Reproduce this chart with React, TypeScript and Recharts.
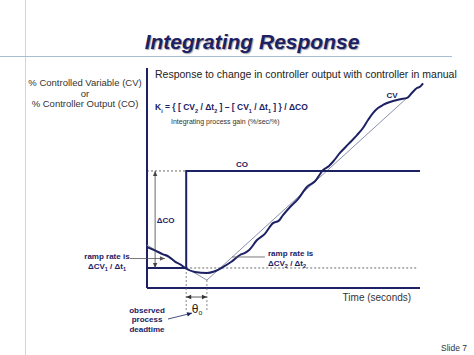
import React from 'react';
import { ComposedChart, Line, XAxis, YAxis, ReferenceLine, ReferenceDot } from 'recharts';

const NAVY = '#1c2163';
const GREY = '#8a90aa';
const FONT = '"Liberation Sans", Arial, sans-serif';

// CV response (time %, value %)
const CV_T = [0, 3, 5.7, 7.5, 10, 12, 13.6, 17.1, 21.4, 24, 27.1, 30, 33.2, 35, 36.5, 39.3, 42, 45, 47, 48.5,
  51.1, 54, 57.1, 60, 62.9, 65, 66.5, 68.9, 72, 75, 77, 79, 80.7, 82.5, 84.3, 86, 87.9, 90.5, 92.9, 94.5, 96.4, 97.5, 98.6];
const CV_V = [18.6, 17.0, 15.3, 14.5, 12.0, 10.6, 9.1, 7.3, 6.8, 7.5, 9.5, 11.8, 15.0, 16.0, 17.3, 21.8, 24.5, 29.5, 30.5, 33.0,
  36.8, 40.5, 45.9, 48.5, 53.6, 55.5, 57.5, 61.4, 65.5, 69.5, 72.5, 76.5, 79.5, 81.8, 83.2, 84.2, 85.0, 85.8, 86.4, 88.5, 90.9, 91.5, 93.0];

// controller output step
const CO_T = [0, 14, 14, 97.5];
const CO_V = [9.1, 9.1, 53.2, 53.2];

// fitted ramp lines
const RAMP1_T = [0, 21.4];
const RAMP1_V = [19.5, 3.6];
const RAMP2_T = [21.4, 93.2];
const RAMP2_V = [3.6, 86.8];

const rows = (t: number[], v: number[]) => t.map((x, i) => ({ t: x, v: v[i] }));
const cvData = rows(CV_T, CV_V);
const coData = rows(CO_T, CO_V);
const ramp1 = rows(RAMP1_T, RAMP1_V);
const ramp2 = rows(RAMP2_T, RAMP2_V);

const CO_LOW = CO_V[0];
const CO_HIGH = CO_V[2];
const STEP_T = CO_T[1];
const DEAD_T = RAMP2_T[0];

function arrow(o: { start?: boolean; end?: boolean; color?: string; width?: number; dash?: string }) {
  const color = o.color ?? NAVY;
  return (p: any) => {
    const { x1, y1, x2, y2 } = p;
    const a = Math.atan2(y2 - y1, x2 - x1);
    const head = (x: number, y: number, ang: number) => {
      const L = 5, W = 2.2;
      const bx = x - L * Math.cos(ang), by = y - L * Math.sin(ang);
      return `${x},${y} ${bx - W * Math.sin(ang)},${by + W * Math.cos(ang)} ${bx + W * Math.sin(ang)},${by - W * Math.cos(ang)}`;
    };
    return (
      <g>
        <line x1={x1} y1={y1} x2={x2} y2={y2} stroke={color} strokeWidth={o.width ?? 1} strokeDasharray={o.dash} />
        {o.end && <polygon points={head(x2, y2, a)} fill={color} />}
        {o.start && <polygon points={head(x1, y1, a + Math.PI)} fill={color} />}
      </g>
    );
  };
}

function note(content: React.ReactNode, o: { size: number; bold?: boolean; anchor?: 'start' | 'middle' | 'end'; color?: string }) {
  return (p: any) => (
    <text x={p.cx} y={p.cy} dy="0.35em" textAnchor={o.anchor ?? 'middle'} fontSize={o.size}
      fontWeight={o.bold ? 700 : 400} fill={o.color ?? NAVY} fontFamily={FONT}>
      {content}
    </text>
  );
}

const sub = (s: string) => (
  <>
    <tspan dy={2} fontSize={5.5}>{s}</tspan>
    <tspan dy={-2}> </tspan>
  </>
);

export default function App() {
  return (
    <div style={{ position: 'absolute', left: 0, top: 0, width: 474, height: 355, background: '#fff', fontFamily: FONT }}>
      <div style={{ position: 'absolute', left: 25, top: 0, width: 1, height: 355, background: '#cad6e4' }} />
      <div style={{ position: 'absolute', left: 0, top: 56, width: 452, height: 1, background: '#a9bdd3' }} />
      <div style={{
        position: 'absolute', left: 0, width: 504, top: 29, textAlign: 'center', fontSize: 21, fontWeight: 700,
        fontStyle: 'italic', color: NAVY, textShadow: '1px 1px 1px #a0a0a8', lineHeight: '26px',
      }}>Integrating Response</div>
      <div style={{
        position: 'absolute', left: 20, width: 130, top: 78, textAlign: 'center', fontSize: 9.5, color: '#333',
        lineHeight: '10.5px',
      }}>
        % Controlled Variable (CV)<br />or<br />% Controller Output (CO)
      </div>
      <div style={{ position: 'absolute', left: 155, top: 68, fontSize: 10.5, color: '#222', whiteSpace: 'nowrap', lineHeight: '12px' }}>
        Response to change in controller output with controller in manual
      </div>
      <div style={{ position: 'absolute', left: 155, top: 102, fontSize: 8.5, fontWeight: 700, color: NAVY, whiteSpace: 'nowrap', lineHeight: '10px' }}>
        K<sub style={{ fontSize: 5.5 }}>i</sub> = &#123; [ CV<sub style={{ fontSize: 5.5 }}>2</sub> / &#916;t<sub style={{ fontSize: 5.5 }}>2</sub> ] &ndash; [ CV<sub style={{ fontSize: 5.5 }}>1</sub> / &#916;t<sub style={{ fontSize: 5.5 }}>1</sub> ] &#125; / &#916;CO
      </div>
      <div style={{ position: 'absolute', left: 171, top: 117, fontSize: 7, color: '#333', whiteSpace: 'nowrap', lineHeight: '9px' }}>
        Integrating process gain (%/sec/%)
      </div>
      <div style={{ position: 'absolute', right: 7, top: 343, fontSize: 8.5, color: '#333', lineHeight: '10px' }}>Slide 7</div>

      <div style={{ position: 'absolute', left: 0, top: 0 }}>
        <ComposedChart width={474} height={355} margin={{ top: 68, right: 47, bottom: 1, left: 35 }}>
          <XAxis dataKey="t" type="number" domain={[-40, 100]} hide allowDataOverflow />
          <YAxis dataKey="v" type="number" domain={[-30, 100]} hide allowDataOverflow />

          {/* axes */}
          <ReferenceLine segment={[{ x: 0, y: 0 }, { x: 0, y: 100 }]} stroke={NAVY} strokeWidth={2} />
          <ReferenceLine segment={[{ x: 0, y: 0 }, { x: 97.5, y: 0 }]} stroke={NAVY} strokeWidth={2} />

          {/* guide lines */}
          <ReferenceLine segment={[{ x: 0, y: CO_HIGH }, { x: STEP_T, y: CO_HIGH }]} stroke="#444" strokeWidth={0.8} strokeDasharray="2 2" />
          <ReferenceLine segment={[{ x: STEP_T, y: CO_LOW }, { x: 96.8, y: CO_LOW }]} stroke="#444" strokeWidth={0.8} strokeDasharray="2 2" />
          <ReferenceLine segment={[{ x: STEP_T, y: CO_LOW }, { x: STEP_T, y: -11 }]} stroke="#666" strokeWidth={0.8} strokeDasharray="2 2" />
          <ReferenceLine segment={[{ x: DEAD_T, y: 3.6 }, { x: DEAD_T, y: -11 }]} stroke="#666" strokeWidth={0.8} strokeDasharray="2 2" />

          <Line data={ramp1} dataKey="v" stroke={GREY} strokeWidth={1} dot={false} isAnimationActive={false} />
          <Line data={ramp2} dataKey="v" stroke={GREY} strokeWidth={1} dot={false} isAnimationActive={false} />
          <Line data={coData} dataKey="v" type="linear" stroke={NAVY} strokeWidth={2} dot={false} isAnimationActive={false} />
          <Line data={cvData} dataKey="v" type="monotoneX" stroke={NAVY} strokeWidth={2} dot={false} isAnimationActive={false} />

          {/* arrows */}
          <ReferenceLine segment={[{ x: 2.9, y: CO_HIGH }, { x: 2.9, y: CO_LOW }]} shape={arrow({ start: true, end: true, color: '#444', width: 0.8 })} />
          <ReferenceLine segment={[{ x: STEP_T, y: -4.1 }, { x: DEAD_T, y: -4.1 }]} shape={arrow({ start: true, end: true, color: '#333', width: 0.8 })} />
          <ReferenceLine segment={[{ x: -6.1, y: 13.4 }, { x: 6.4, y: 13.4 }]} shape={arrow({ end: true, color: '#555', width: 0.8 })} />
          <ReferenceLine segment={[{ x: 30.4, y: 14.1 }, { x: 42.1, y: 14.1 }]} shape={arrow({ color: '#555', width: 0.8 })} />
          <ReferenceLine segment={[{ x: 7.5, y: -14.1 }, { x: 16.1, y: -11.4 }]} shape={arrow({ end: true, color: NAVY, width: 0.8 })} />

          {/* labels */}
          <ReferenceDot x={33.9} y={56.4} shape={note('CO', { size: 8, bold: true })} />
          <ReferenceDot x={87.5} y={87.7} shape={note('CV', { size: 8, bold: true })} />
          <ReferenceDot x={3.5} y={30.9} shape={note('\u0394CO', { size: 8, bold: true, anchor: 'start' })} />
          <ReferenceDot x={-14.3} y={14.5} shape={note('ramp rate is', { size: 8, bold: true })} />
          <ReferenceDot x={-14.3} y={10.0} shape={note(<>{'\u0394CV'}{sub('1')}{'/ \u0394t'}{sub('1')}</>, { size: 8, bold: true })} />
          <ReferenceDot x={43.2} y={15.9} shape={note('ramp rate is', { size: 8, bold: true, anchor: 'start' })} />
          <ReferenceDot x={43.2} y={11.4} shape={note(<>{'\u0394CV'}{sub('2')}{'/ \u0394t'}{sub('2')}</>, { size: 8, bold: true, anchor: 'start' })} />
          <ReferenceDot x={17.9} y={-9.5} shape={note(<>{'\u03B8'}<tspan fontSize={7} dy={2}>o</tspan></>, { size: 12, color: '#222' })} />
          <ReferenceDot x={0} y={-10} shape={note('observed', { size: 8, bold: true })} />
          <ReferenceDot x={0} y={-14.1} shape={note('process', { size: 8, bold: true })} />
          <ReferenceDot x={0} y={-18.6} shape={note('deadtime', { size: 8, bold: true })} />
          <ReferenceDot x={82.1} y={-4.5} shape={note('Time (seconds)', { size: 10, color: '#333' })} />
        </ComposedChart>
      </div>
    </div>
  );
}
